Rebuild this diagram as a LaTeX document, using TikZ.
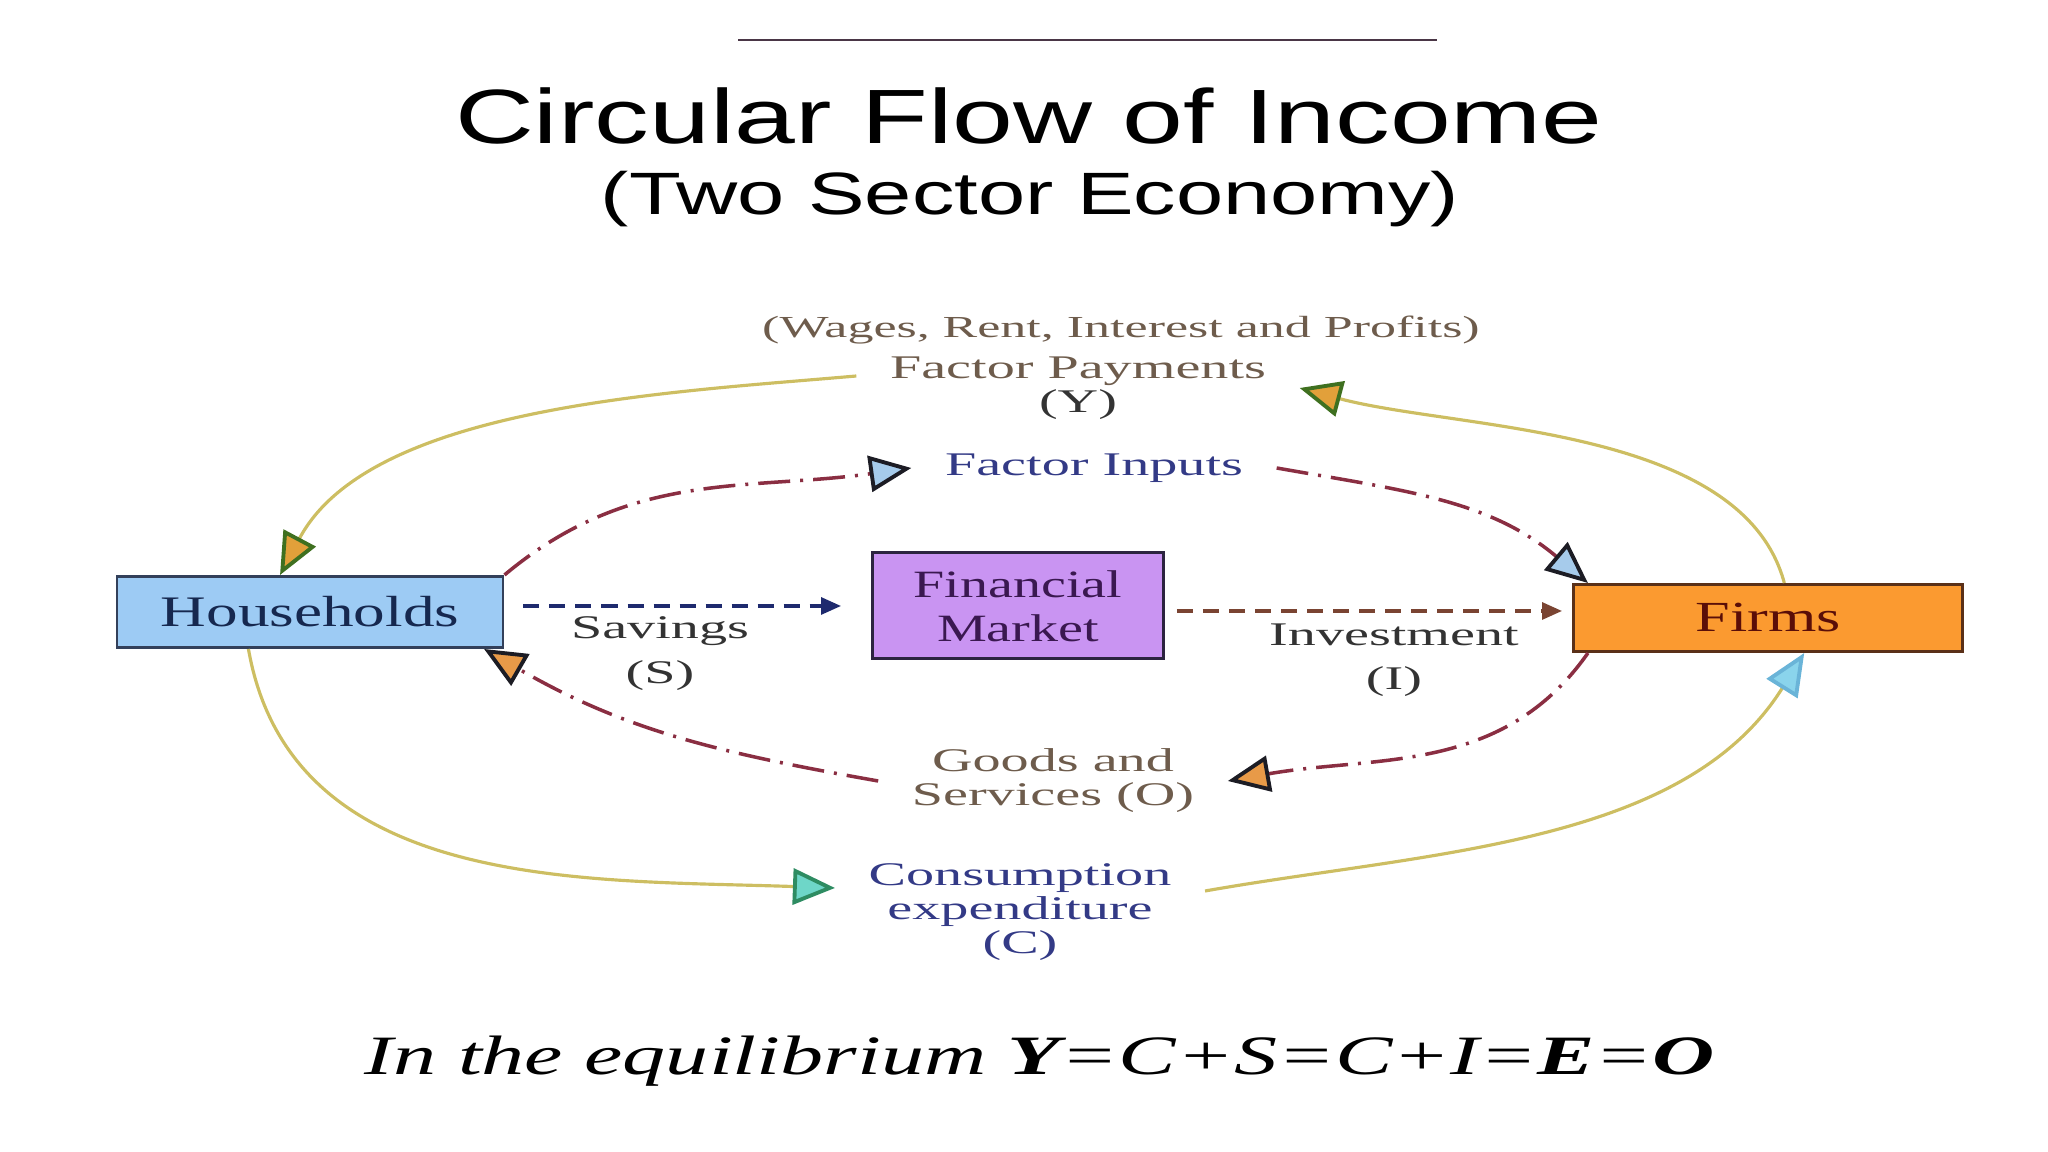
\documentclass[tikz,border=0pt]{standalone}
\usepackage{fontspec}
\usetikzlibrary{arrows.meta}

\newfontfamily\titlefont[FakeStretch=1.42]{Liberation Sans}
\newfontfamily\boxfont[FakeStretch=1.45]{Liberation Serif}
\newfontfamily\flowfont[FakeStretch=1.7]{Liberation Serif}
\newfontfamily\eqfont[FakeStretch=1.55]{Liberation Serif}

\definecolor{hhblue}{HTML}{9DCBF4}
\definecolor{hhedge}{HTML}{33405A}
\definecolor{hhtext}{HTML}{16284F}
\definecolor{fmpurple}{HTML}{C994F2}
\definecolor{fmedge}{HTML}{2C2440}
\definecolor{fmtext}{HTML}{3A1850}
\definecolor{firmorange}{HTML}{FB9A30}
\definecolor{firmedge}{HTML}{5A3018}
\definecolor{firmtext}{HTML}{5A0E08}
\definecolor{outergold}{HTML}{CDBE62}
\definecolor{innerred}{HTML}{8A2E42}
\definecolor{savenavy}{HTML}{1E2A6E}
\definecolor{invbrown}{HTML}{7A4432}
\definecolor{brownlbl}{HTML}{6E5C4C}
\definecolor{navylbl}{HTML}{333A86}
\definecolor{greylbl}{HTML}{333333}
\definecolor{tipgreen}{HTML}{3F7020}
\definecolor{tiporange}{HTML}{E2A03A}
\definecolor{tipblue}{HTML}{A6CBEB}
\definecolor{tipdark}{HTML}{1C1C24}
\definecolor{goodsorange}{HTML}{E89A48}
\definecolor{tipteal}{HTML}{2E8C62}
\definecolor{tipcyan}{HTML}{6ED6C8}
\definecolor{tipsky}{HTML}{6AB4D8}
\definecolor{tiplight}{HTML}{8AD4EC}
\definecolor{rulecol}{HTML}{4A3646}

\begin{document}
\begin{tikzpicture}
        % two sector economy, circular flow
        \tikzstyle{sector} = [draw,rectangle,line width=0.85pt,inner sep=0pt,align=center];
        \tikzstyle{flow} = [inner xsep=0.33cm,inner ysep=1pt,align=center,font=\flowfont\fontsize{9.4}{9.7}\selectfont];
        \tikzstyle{outer} = [draw=outergold,line width=0.9pt];
        \tikzstyle{inner} = [draw=innerred,line width=1pt,dash pattern=on 0.32cm off 0.1cm on 0.03cm off 0.1cm];
        \tikzstyle{money} = [line width=0.9pt,dash pattern=on 0.16cm off 0.1cm];
        \tikzstyle{pay tip} = [-{Triangle[length=0.42cm,width=0.36cm,line width=1.1pt,color=tipgreen,fill=tiporange]}];
        \tikzstyle{input tip} = [-{Triangle[length=0.42cm,width=0.36cm,line width=1.1pt,color=tipdark,fill=tipblue]}];
        \tikzstyle{goods tip} = [-{Triangle[length=0.42cm,width=0.36cm,line width=1.1pt,color=tipdark,fill=goodsorange]}];

        \useasboundingbox (0,0) rectangle (20.48,11.52);

        \draw[rulecol,line width=0.8pt] (7.38,11.12) -- (14.37,11.12);
        \node[anchor=base,font=\titlefont\fontsize{21.9}{26}\selectfont] (title) at (10.29,10.08) {Circular Flow of Income};
        \node[anchor=base,font=\titlefont\fontsize{17}{20}\selectfont] (subtitle) at (10.30,9.37) {(Two Sector Economy)};

        \node[sector,fill=hhblue,draw=hhedge,text=hhtext,minimum width=3.86cm,minimum height=0.71cm,font=\boxfont\fontsize{12.4}{14}\selectfont] (households) at (3.10,5.40) {Households};
        \node[sector,fill=fmpurple,draw=fmedge,text=fmtext,minimum width=2.91cm,minimum height=1.06cm,font=\boxfont\fontsize{11}{12.5}\selectfont] (market) at (10.18,5.46) {Financial\\Market};
        \node[sector,fill=firmorange,draw=firmedge,text=firmtext,minimum width=3.89cm,minimum height=0.67cm,font=\boxfont\fontsize{12.2}{14}\selectfont] (firms) at (17.68,5.34) {Firms};

        \node[flow,text=brownlbl,font=\flowfont\fontsize{8.7}{10}\selectfont] (wages) at (11.21,8.22) {(Wages, Rent, Interest and Profits)};
        \node[flow,text=brownlbl] (factor_pay) at (10.78,7.64) {Factor Payments\\\textcolor{greylbl}{(Y)}};
        \node[flow,text=navylbl] (factor_in) at (10.94,6.84) {Factor Inputs};
        \node[flow,text=greylbl,font=\flowfont\fontsize{9.4}{12.8}\selectfont] (savings) at (6.60,4.98) {Savings\\(S)};
        \node[flow,text=greylbl,font=\flowfont\fontsize{9.4}{12.5}\selectfont] (investment) at (13.94,4.92) {Investment\\(I)};
        \node[flow,text=brownlbl] (goods) at (10.53,3.71) {Goods and\\Services (O)};
        \node[flow,text=navylbl] (consumption) at (10.20,2.40) {Consumption\\expenditure\\(C)};

        \node[anchor=base,font=\eqfont\itshape\fontsize{15.8}{18}\selectfont] (balance) at (10.40,0.77) {In the equilibrium {\bfseries Y}=C+S=C+I={\bfseries E}={\bfseries O}};

        % money going round the outside
        \draw[outer,pay tip] (firms.65) to[out=105,in=-15,looseness=0.8] (factor_pay.east);
        \draw[outer,pay tip] ([yshift=0.12cm]factor_pay.west) to[out=185,in=62,looseness=0.8] (households.129);
        \draw[outer,-{Triangle[length=0.42cm,width=0.36cm,line width=1.1pt,color=tipteal,fill=tipcyan]}] (households.-149) to[out=-80,in=178] ([yshift=0.24cm]consumption.west);
        \draw[outer,-{Triangle[length=0.42cm,width=0.36cm,line width=1.1pt,color=tipsky,fill=tiplight]}] ([yshift=0.21cm]consumption.east) to[out=10,in=-122,looseness=0.9] (firms.-44);

        % real flows inside
        \draw[inner,input tip] (households.north east) to[out=40,in=188] (factor_in.west);
        \draw[inner,input tip] (factor_in.east) to[out=-10,in=140] (firms.169);
        \draw[inner,goods tip] (firms.191) to[out=-125,in=10] (goods.east);
        \draw[inner,goods tip] (goods.west) to[out=170,in=-30] (households.-12);

        \draw[money,savenavy,-{Triangle[length=0.2cm,width=0.17cm]},shorten <=0.19cm,shorten >=0.3cm] (households.east |- market.west) -- (market.west);
        \draw[money,invbrown,-{Triangle[length=0.2cm,width=0.17cm]},shorten <=0.12cm,shorten >=0.1cm] ([yshift=-0.05cm]market.east) -- ([yshift=-0.05cm]market.east -| firms.west);

    \end{tikzpicture}
\end{document}
